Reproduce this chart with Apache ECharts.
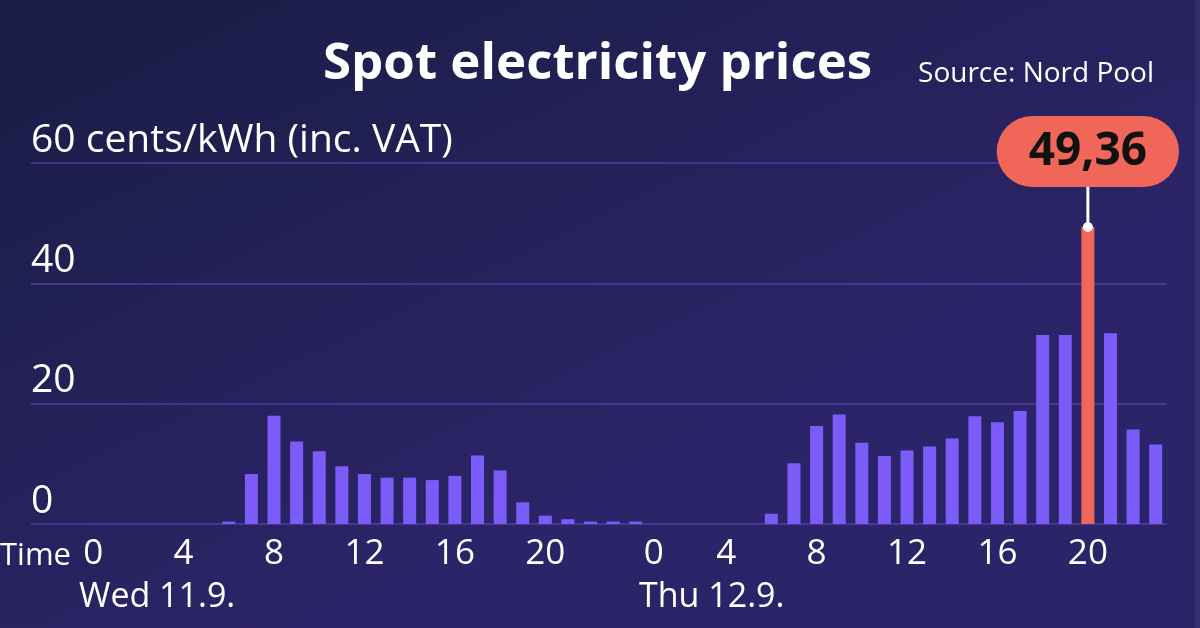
<!DOCTYPE html>
<html>
<head>
<meta charset="utf-8">
<script src="https://cdn.jsdelivr.net/npm/echarts@6/dist/echarts.min.js"></script>
<style>
  html, body { margin: 0; padding: 0; }
  #chart { width: 1200px; height: 628px; }
</style>
</head>
<body>
<div id="chart"></div>
<script>
// hourly spot prices, cents/kWh (inc. VAT)
var wedPrices = [0, 0, 0, 0, 0, 0, 0.4, 8.3, 18.0, 13.7, 12.1, 9.6, 8.3, 7.7, 7.7, 7.3, 8.0, 11.4, 8.9, 3.6, 1.4, 0.8, 0.4, 0.4];
var thuPrices = [0.4, 0, 0, 0, 0, 0, 1.7, 10.1, 16.3, 18.2, 13.5, 11.3, 12.2, 12.9, 14.2, 17.9, 16.9, 18.8, 31.4, 31.4, 49.36, 31.7, 15.7, 13.2];
var hourTicks = [0, 4, 8, 12, 16, 20, 24, 28, 32, 36, 40, 44];
var yTicks = [0, 20, 40, 60];
var dayLabels = ['Wed 11.9.', 'Thu 12.9.'];
var peakIndex = 44;

var allPrices = wedPrices.concat(thuPrices);
var barData = allPrices.map(function (v, i) {
  var item = { value: [i, v] };
  if (i === peakIndex) item.itemStyle = { color: '#f0675a' };
  return item;
});

var chart = echarts.init(document.getElementById('chart'));

var option = {
  backgroundColor: {
    type: 'linear', x: 0, y: 0, x2: 0.25, y2: 1,
    colorStops: [
      { offset: 0, color: '#191d44' },
      { offset: 1, color: '#2c2468' }
    ]
  },
  title: [
    {
      text: 'Spot electricity prices',
      left: 318, top: 34,
      textStyle: { color: '#ffffff', fontFamily: 'Open Sans', fontWeight: 'bold', fontSize: 51 }
    },
    {
      text: 'Source: Nord Pool',
      right: 41, top: 55,
      textStyle: { color: '#ffffff', fontFamily: 'Open Sans', fontWeight: 'normal', fontSize: 28 }
    }
  ],
  grid: { left: 31, right: 33, top: 163, bottom: 104 },
  xAxis: {
    type: 'value',
    min: -2.75,
    max: 47.5,
    axisLine: { show: false },
    axisTick: { show: false },
    splitLine: { show: false },
    axisLabel: {
      customValues: hourTicks,
      color: '#ffffff',
      fontFamily: 'Open Sans',
      fontSize: 35,
      margin: 13,
      formatter: function (v) {
        if (v === 24) return '{shift|0}';
        return String(v % 24);
      },
      rich: {
        shift: { color: '#ffffff', fontFamily: 'Open Sans', fontSize: 35, padding: [0, 0, 0, 36] }
      }
    }
  },
  yAxis: {
    type: 'value',
    min: 0,
    max: 60,
    interval: 20,
    axisLine: { show: false },
    axisTick: { show: false },
    splitLine: { lineStyle: { color: '#4c3fa0', width: 1.5 } },
    axisLabel: {
      inside: true,
      margin: 0,
      color: '#ffffff',
      fontFamily: 'Open Sans',
      fontSize: 39,
      verticalAlign: 'bottom',
      lineHeight: 39,
      padding: [0, 0, 3, 0],
      formatter: function (v) {
        return v === 60 ? '60 cents/kWh (inc. VAT)' : String(v);
      }
    }
  },
  series: [
    {
      type: 'bar',
      barWidth: 13,
      itemStyle: { color: '#7b5cf8' },
      data: barData,
      markPoint: {
        silent: true,
        data: [
          {
            coord: [peakIndex, allPrices[peakIndex]],
            symbol: 'rect',
            symbolSize: [3, 40],
            symbolOffset: [0, -20],
            itemStyle: { color: '#ffffff' },
            label: {
              show: true,
              position: 'top',
              distance: 0,
              formatter: String(allPrices[peakIndex]).replace('.', ','),
              color: '#111111',
              fontFamily: 'Open Sans',
              fontWeight: 'bold',
              fontSize: 46,
              lineHeight: 49,
              backgroundColor: '#f0675a',
              borderRadius: 36,
              padding: [11, 32]
            }
          },
          {
            coord: [peakIndex, allPrices[peakIndex]],
            symbol: 'circle',
            symbolSize: 10,
            itemStyle: { color: '#ffffff' },
            label: { show: false }
          }
        ]
      }
    }
  ],
  graphic: [
    {
      type: 'text', left: 0, top: 541,
      style: { text: 'Time', fill: '#ffffff', font: '31px "Open Sans"' }
    },
    {
      type: 'text', left: 79, top: 580,
      style: { text: dayLabels[0], fill: '#ffffff', font: '34px "Open Sans"' }
    },
    {
      type: 'text', left: 639, top: 580,
      style: { text: dayLabels[1], fill: '#ffffff', font: '34px "Open Sans"' }
    },
    {
      type: 'rect', left: 1195, top: 0,
      shape: { width: 5, height: 628 },
      style: { fill: 'rgba(255,255,255,0.05)' }
    }
  ]
};

chart.setOption(option);
</script>
</body>
</html>
